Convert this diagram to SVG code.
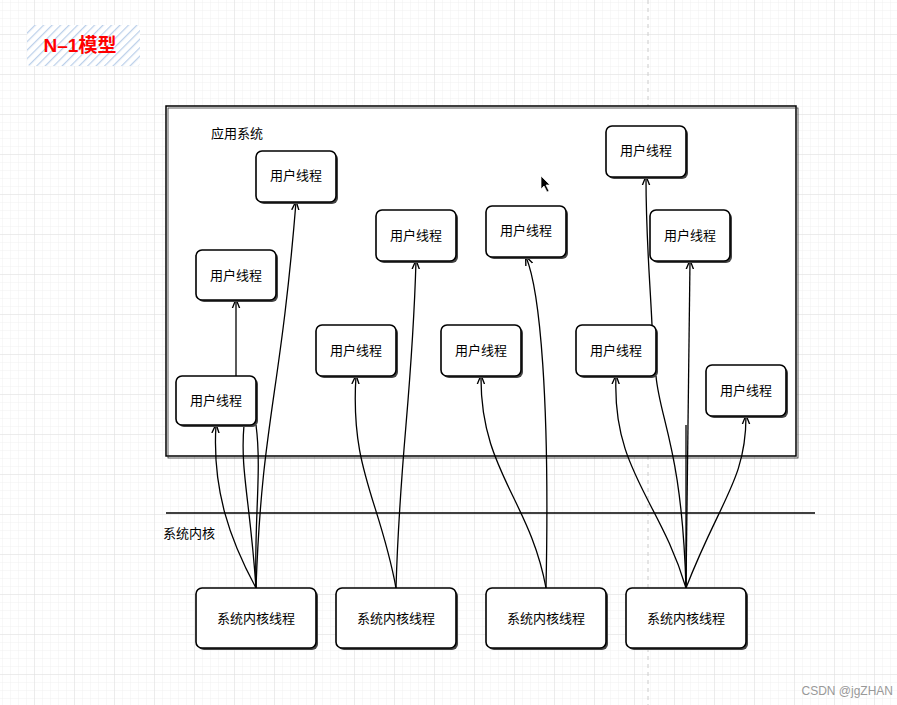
<svg xmlns="http://www.w3.org/2000/svg" width="897" height="705" viewBox="0 0 897 705">
<defs>
<pattern id="gm" width="8" height="8" patternUnits="userSpaceOnUse" x="-5" y="-5"><path d="M8 0V8M0 8H8" fill="none" stroke="#f0f0f0" stroke-width="1"/></pattern>
<pattern id="gM" width="40" height="40" patternUnits="userSpaceOnUse" x="-5" y="-5"><path d="M40 0V40M0 40H40" fill="none" stroke="#e0e0e0" stroke-width="1"/></pattern>
<pattern id="hatch" width="6" height="6" patternUnits="userSpaceOnUse" patternTransform="rotate(45)"><rect width="6" height="6" fill="#fff"/><path d="M0 0V6" stroke="#bcd0ea" stroke-width="2.5"/></pattern>
<marker id="ar" viewBox="0 0 10 10" refX="9" refY="5" markerWidth="7" markerHeight="7" orient="auto"><path d="M0 1L10 5L0 9" fill="none" stroke="#000" stroke-width="1.5"/></marker>
</defs>
<style>
.n rect.s{fill:#444}
.n rect.b{fill:#fff;stroke:#000;stroke-width:1.6}
.n text{font-family:"Liberation Sans","Noto Sans CJK SC",sans-serif;font-size:13px;text-anchor:middle;fill:#000}
.c path{fill:none;stroke:#000;stroke-width:1.3}
.lbl{font-family:"Liberation Sans","Noto Sans CJK SC",sans-serif;font-size:13px;fill:#000}
</style>
<rect width="897" height="705" fill="#fff"/>
<rect width="897" height="705" fill="url(#gm)"/>
<rect width="897" height="705" fill="url(#gM)"/>
<line x1="648" y1="0" x2="648" y2="705" stroke="#ccc" stroke-dasharray="4 4"/>
<g id="title"><rect x="27" y="25" width="113" height="41" rx="4" fill="url(#hatch)"/><text x="80" y="52" font-family="Liberation Sans,'Noto Sans CJK SC',sans-serif" font-size="19" font-weight="bold" fill="#f00" text-anchor="middle">N–1模型</text></g>
<g id="app"><rect x="166" y="106" width="630" height="350" fill="#fff" stroke="#000" stroke-width="1.5"/><rect x="168" y="108" width="630" height="350" fill="none" stroke="#333" stroke-width="0.8"/><text class="lbl" x="211" y="138">应用系统</text></g>
<g id="kernel"><line x1="166" y1="513" x2="815" y2="513" stroke="#000" stroke-width="1.5"/><text class="lbl" x="163" y="538">系统内核</text></g>
<g class="c" id="connectors">
<path d="M256 588C254 520 262 470 256 425" />
<path d="M256 588C250 500 240 470 244 425"/>
<path d="M256 588C230 540 212 490 216 425" marker-end="url(#ar)"/>
<path d="M256 588C262 420 280 400 296 202" marker-end="url(#ar)"/>
<path d="M236 376L236 300" marker-end="url(#ar)"/>
<path d="M396 588C380 500 350 470 356 376" marker-end="url(#ar)"/>
<path d="M396 588C400 450 412 400 416 261" marker-end="url(#ar)"/>
<path d="M546 588C530 500 480 470 481 376" marker-end="url(#ar)"/>
<path d="M546 588C550 400 540 290 526 257" marker-end="url(#ar)"/>
<path d="M686 588C660 500 612 470 616 376" marker-end="url(#ar)"/>
<path d="M686 588C682 450 660 420 656 376"/>
<path d="M652 325C650 280 646 240 646 177" marker-end="url(#ar)"/>
<path d="M686 588C688 500 688 400 690 261" marker-end="url(#ar)"/>
<path d="M686 588L686 425"/>
<path d="M686 588C720 500 746 480 746 416" marker-end="url(#ar)"/>
</g>
<g class="n" id="uA"><rect class="s" x="258" y="153" width="80" height="51" rx="6"/><rect class="b" x="256" y="151" width="80" height="51" rx="6"/><text x="296" y="180">用户线程</text></g>
<g class="n" id="uB"><rect class="s" x="198" y="252" width="80" height="50" rx="6"/><rect class="b" x="196" y="250" width="80" height="50" rx="6"/><text x="236" y="280">用户线程</text></g>
<g class="n" id="uC"><rect class="s" x="178" y="378" width="80" height="49" rx="6"/><rect class="b" x="176" y="376" width="80" height="49" rx="6"/><text x="216" y="405">用户线程</text></g>
<g class="n" id="uD"><rect class="s" x="378" y="212" width="80" height="51" rx="6"/><rect class="b" x="376" y="210" width="80" height="51" rx="6"/><text x="416" y="240">用户线程</text></g>
<g class="n" id="uE"><rect class="s" x="488" y="208" width="80" height="51" rx="6"/><rect class="b" x="486" y="206" width="80" height="51" rx="6"/><text x="526" y="235">用户线程</text></g>
<g class="n" id="uF"><rect class="s" x="608" y="128" width="80" height="51" rx="6"/><rect class="b" x="606" y="126" width="80" height="51" rx="6"/><text x="646" y="155">用户线程</text></g>
<g class="n" id="uG"><rect class="s" x="652" y="212" width="80" height="51" rx="6"/><rect class="b" x="650" y="210" width="80" height="51" rx="6"/><text x="690" y="240">用户线程</text></g>
<g class="n" id="uH"><rect class="s" x="318" y="327" width="80" height="51" rx="6"/><rect class="b" x="316" y="325" width="80" height="51" rx="6"/><text x="356" y="355">用户线程</text></g>
<g class="n" id="uI"><rect class="s" x="443" y="327" width="80" height="51" rx="6"/><rect class="b" x="441" y="325" width="80" height="51" rx="6"/><text x="481" y="355">用户线程</text></g>
<g class="n" id="uJ"><rect class="s" x="578" y="327" width="80" height="51" rx="6"/><rect class="b" x="576" y="325" width="80" height="51" rx="6"/><text x="616" y="355">用户线程</text></g>
<g class="n" id="uK"><rect class="s" x="708" y="367" width="80" height="51" rx="6"/><rect class="b" x="706" y="365" width="80" height="51" rx="6"/><text x="746" y="395">用户线程</text></g>
<g class="n" id="k1"><rect class="s" x="198" y="590" width="120" height="60" rx="6"/><rect class="b" x="196" y="588" width="120" height="60" rx="6"/><text x="256" y="623">系统内核线程</text></g>
<g class="n" id="k2"><rect class="s" x="338" y="590" width="120" height="60" rx="6"/><rect class="b" x="336" y="588" width="120" height="60" rx="6"/><text x="396" y="623">系统内核线程</text></g>
<g class="n" id="k3"><rect class="s" x="488" y="590" width="120" height="60" rx="6"/><rect class="b" x="486" y="588" width="120" height="60" rx="6"/><text x="546" y="623">系统内核线程</text></g>
<g class="n" id="k4"><rect class="s" x="628" y="590" width="120" height="60" rx="6"/><rect class="b" x="626" y="588" width="120" height="60" rx="6"/><text x="686" y="623">系统内核线程</text></g>
<path d="M541 176L541 189L544 186L547 192L549 191L546 185L550 185Z" fill="#000" stroke="#fff" stroke-width="0.7"/>
<text x="893" y="695" font-family="Liberation Sans,sans-serif" font-size="12" fill="#999" text-anchor="end">CSDN @jgZHAN</text>
</svg>
